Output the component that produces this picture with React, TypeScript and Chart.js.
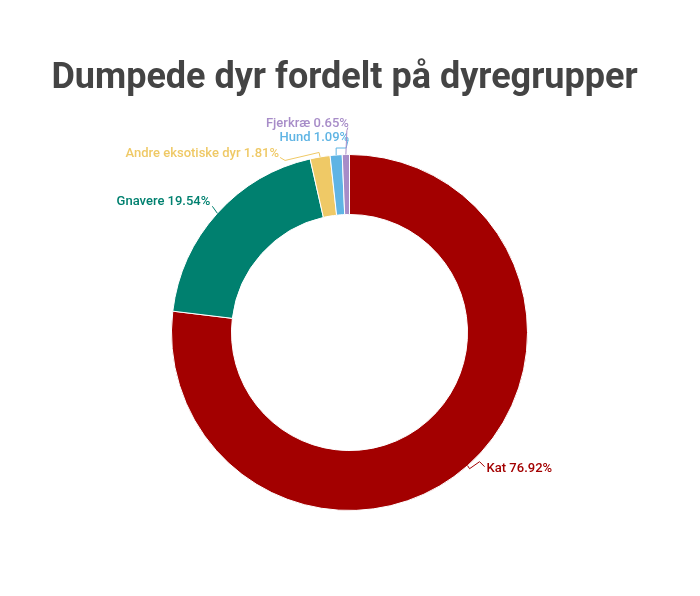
import React, { useEffect, useRef } from "react";
import { Chart, registerables } from "chart.js";

Chart.register(...registerables);

const TITLE = "Dumpede dyr fordelt på dyregrupper";
const categories = ["Kat", "Gnavere", "Andre eksotiske dyr", "Hund", "Fjerkræ"];
const values = [76.92, 19.54, 1.81, 1.09, 0.65];
const colors = ["#a30000", "#00806f", "#efc966", "#5fb4e4", "#a78cc8"];

// label layout: connector elbows and text anchor, relative to the slice's outer mid point
const labelLayout = [
  { pts: [[2, 3], [12, -4], [17, 1]], text: [19, 3], align: "left" },
  { pts: [[-5, -7]], text: [-7, -12], align: "right" },
  { pts: [[-1, -4.5], [-35, 3.5], [-40, 0.5]], text: [-41, -3.5], align: "right" },
  { pts: [[0, -7], [10, -7], [12, -15]], text: [13, -17], align: "right" },
  { pts: [[1, -24], [2, -27]], text: [3, -31], align: "right" },
];

const labelPlugin = {
  id: "pieLabels",
  afterDraw(chart: any) {
    const ctx = chart.ctx;
    ctx.save();
    // title
    ctx.font = "bold 36px Roboto";
    ctx.fillStyle = "#444444";
    ctx.textAlign = "center";
    ctx.textBaseline = "alphabetic";
    ctx.fillText(TITLE, 344.5, 88);

    const meta = chart.getDatasetMeta(0);
    meta.data.forEach((arc: any, i: number) => {
      const p = arc.getProps(["x", "y", "startAngle", "endAngle", "outerRadius"], true);
      const mid = (p.startAngle + p.endAngle) / 2;
      const sx = p.x + Math.cos(mid) * p.outerRadius;
      const sy = p.y + Math.sin(mid) * p.outerRadius;
      const lay = labelLayout[i];
      ctx.strokeStyle = colors[i];
      ctx.lineWidth = 1;
      ctx.beginPath();
      ctx.moveTo(sx, sy);
      lay.pts.forEach(([dx, dy]) => ctx.lineTo(sx + dx, sy + dy));
      ctx.stroke();
      ctx.font = "500 13px Roboto";
      ctx.fillStyle = colors[i];
      ctx.textAlign = lay.align;
      ctx.textBaseline = "middle";
      ctx.fillText(`${categories[i]} ${values[i].toFixed(2)}%`, sx + lay.text[0], sy + lay.text[1]);
    });
    ctx.restore();
  },
};

export default function App() {
  const ref = useRef<HTMLCanvasElement>(null);
  useEffect(() => {
    document.body.style.margin = "0";
    const chart = new Chart(ref.current!, {
      type: "doughnut",
      data: {
        labels: categories,
        datasets: [
          {
            data: values,
            backgroundColor: colors,
            borderColor: "#ffffff",
            borderWidth: 1,
          },
        ],
      },
      options: {
        animation: false,
        responsive: true,
        maintainAspectRatio: false,
        cutout: "66.3%",
        layout: { padding: { left: 171, right: 172, top: 154, bottom: 85 } },
        plugins: {
          legend: { display: false },
          title: { display: false },
          tooltip: { enabled: false },
        },
      },
      plugins: [labelPlugin],
    });
    return () => chart.destroy();
  }, []);
  return (
    <div style={{ position: "fixed", left: 0, top: 0, width: 700, height: 596, background: "#fff" }}>
      <canvas ref={ref} />
    </div>
  );
}
